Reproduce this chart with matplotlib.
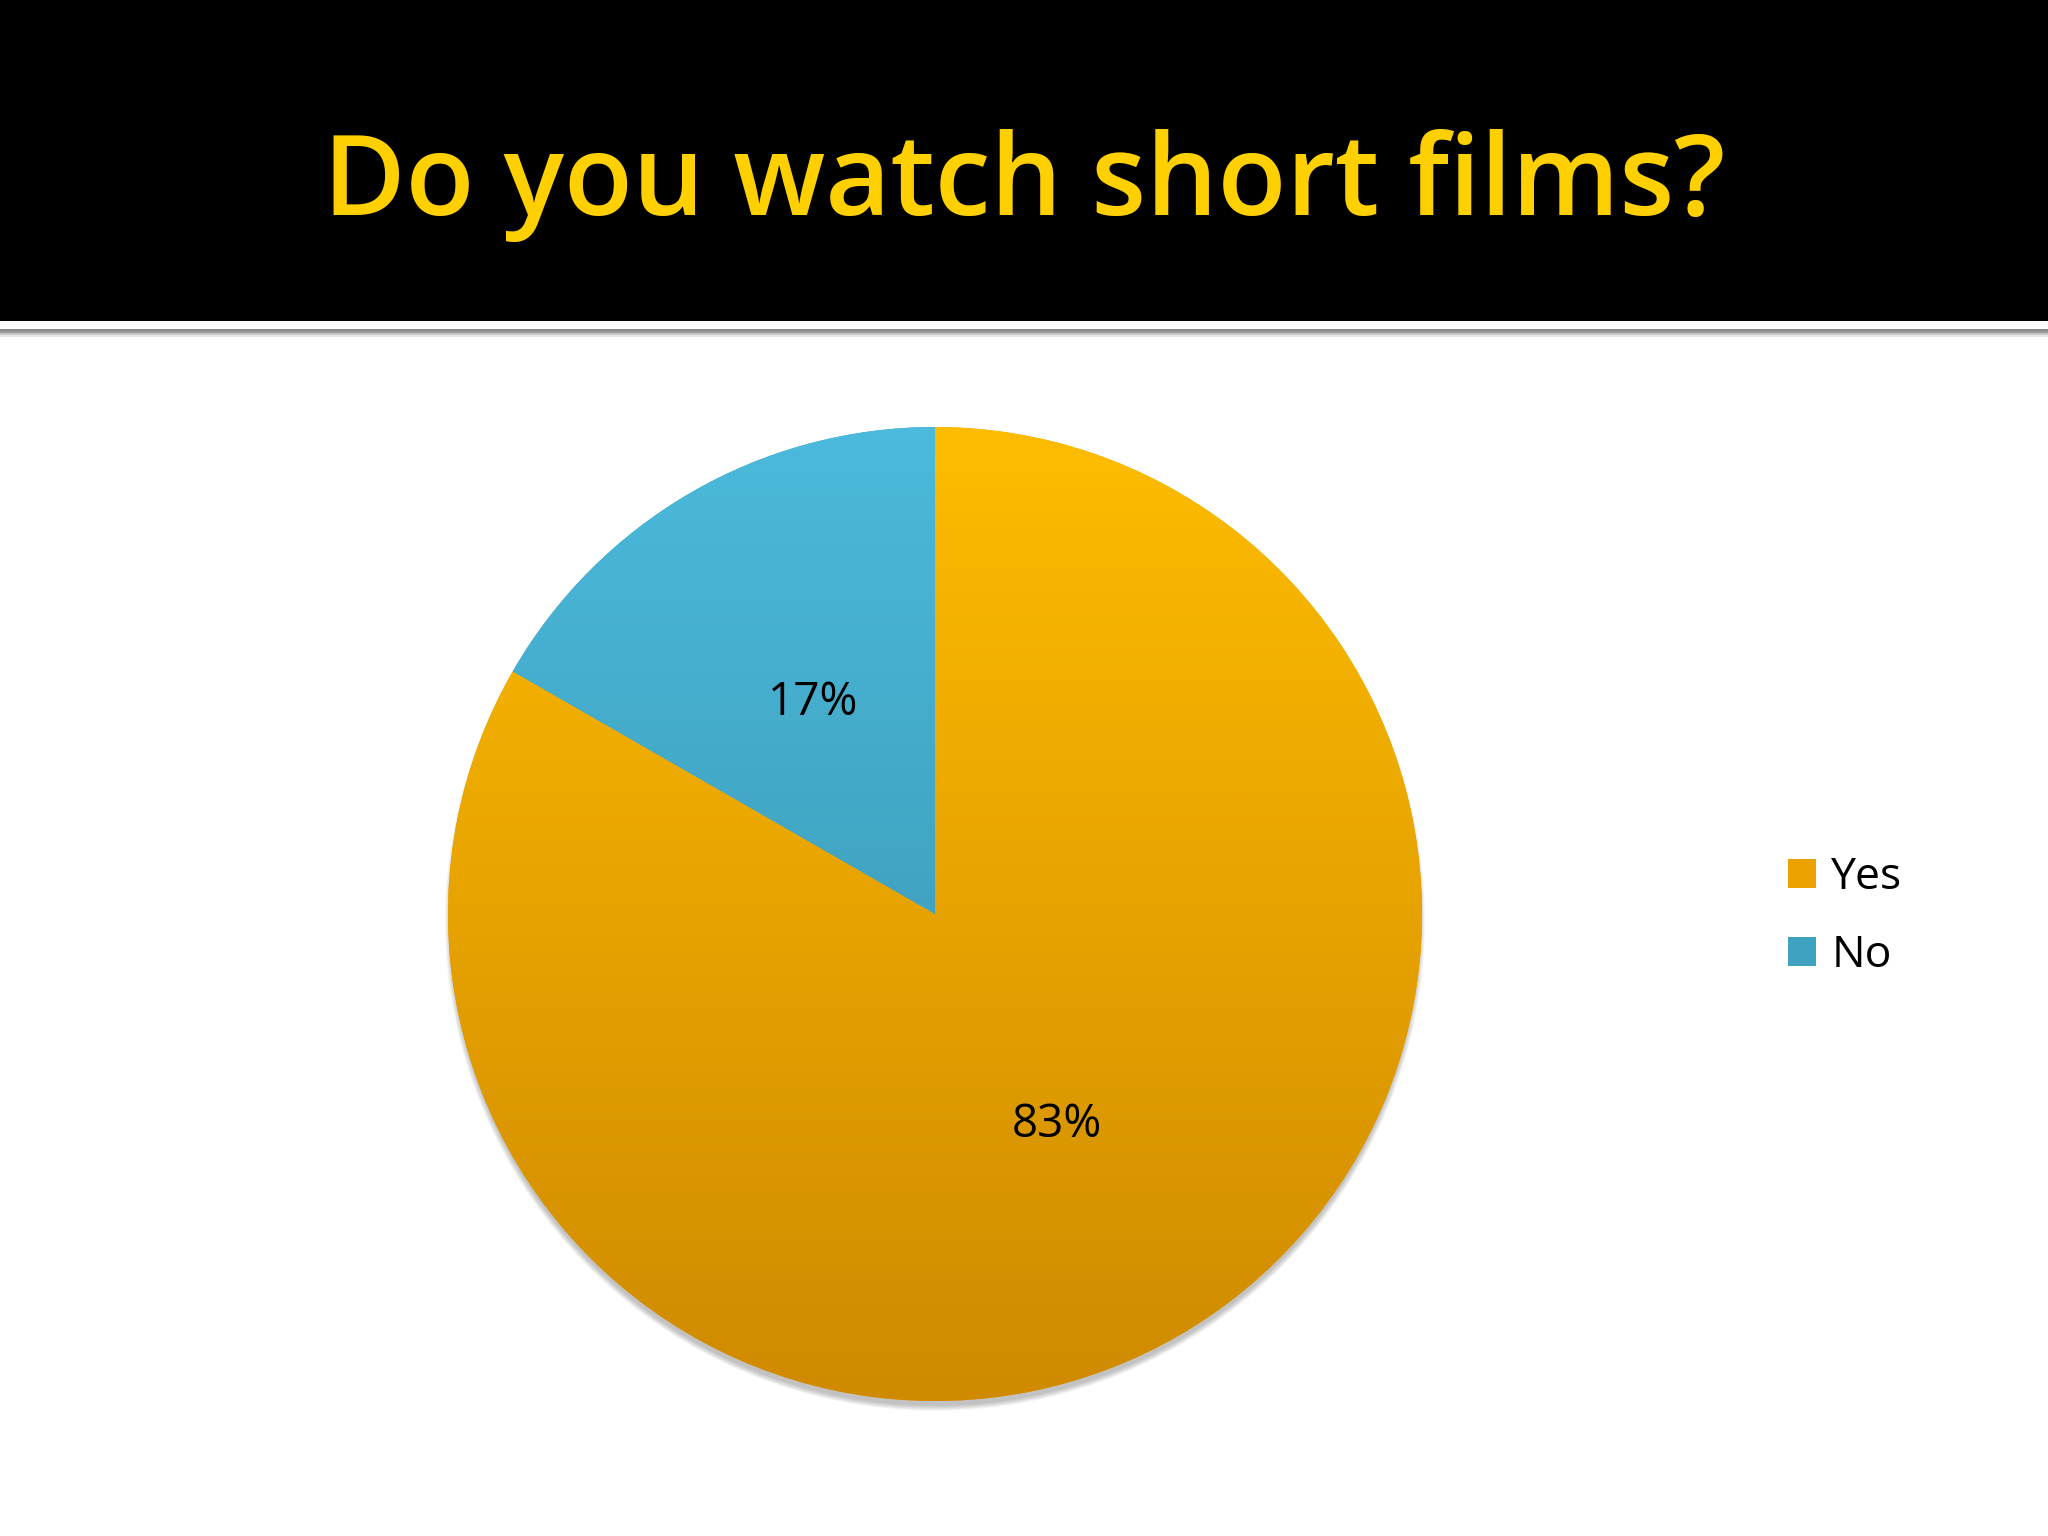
import matplotlib
matplotlib.use("Agg")
import matplotlib.pyplot as plt
import matplotlib.colors as mcolors
from matplotlib.patches import Rectangle, Circle
import numpy as np

# data
labels = ["Yes", "No"]
values = [83.3, 16.7]
pct_labels = ["83%", "17%"]
title = "Do you watch short films?"

# gradient colours (top, bottom) for each slice
top_colors = ["#FEBC00", "#4BBADC"]
bottom_colors = ["#CF8A00", "#378CA6"]
mid_colors = ["#EBA200", "#3FA2C0"]

W, H = 2048, 1536
fig = plt.figure(figsize=(W / 100, H / 100), dpi=100)
fig.patch.set_facecolor("white")

# header band
fig.patches.append(Rectangle((0, 1 - 321 / H), 1, 321 / H, transform=fig.transFigure,
                             facecolor="black", edgecolor="none", zorder=0))
for y, c in [(331, "#8a8a8a"), (333, "#9a9a9a"), (335, "#c8c8c8"), (337, "#e8e8e8")]:
    fig.patches.append(Rectangle((0, 1 - y / H), 1, 2 / H, transform=fig.transFigure,
                                 facecolor=c, edgecolor="none", zorder=0))

# title with soft glow
for a in [0.10, 0.15]:
    fig.text(0.5, 1 - 215 / H, title, ha="center", va="baseline", fontsize=81,
             family="Open Sans", weight="semibold", color="#FFB000", alpha=a)
fig.text(0.5, 1 - 215 / H, title, ha="center", va="baseline", fontsize=81,
         family="Open Sans", weight="semibold", color="#FFD000")

# pie axes: center (935, 914) px, radius 487 px
cx, cy, R = 935, 914, 487
half = 520
ax = fig.add_axes([(cx - half) / W, (H - cy - half) / H, 2 * half / W, 2 * half / H])
lim = half / R
ax.axis("off")

# soft shadow, mostly below the pie
for k in range(6):
    ax.add_patch(Circle((0, -0.014), 0.996 + k * 0.002, facecolor="#404040",
                        edgecolor="none", alpha=0.06, zorder=0))

wedges, _, autotexts = ax.pie(values, colors=mid_colors, startangle=90, counterclock=False,
                              autopct="%1.0f%%", pctdistance=0.5, radius=1.0,
                              wedgeprops=dict(linewidth=0, edgecolor="none"),
                              textprops=dict(fontsize=33, family="Open Sans", color="black"))
ax.set_xlim(-lim, lim)
ax.set_ylim(-lim, lim)
ax.set_aspect("equal")

for t, s in zip(autotexts, pct_labels):
    t.set_text(s)
    t.set_zorder(5)

# vertical gradient fill clipped to each wedge
grad = np.linspace(0, 1, 256).reshape(-1, 1)
for w, ct, cb in zip(wedges, top_colors, bottom_colors):
    cmap = mcolors.LinearSegmentedColormap.from_list("g", [ct, cb])
    im = ax.imshow(grad, cmap=cmap, extent=[-1, 1, -1, 1], origin="upper",
                   aspect="auto", zorder=2, interpolation="bilinear")
    im.set_clip_path(w)
ax.set_xlim(-lim, lim)
ax.set_ylim(-lim, lim)

# legend
leg = fig.legend(wedges, labels, loc="center left",
                 bbox_to_anchor=(1766 / W, 1 - 917 / H), frameon=False,
                 prop=dict(family="Open Sans", size=32), handlelength=0.62,
                 handleheight=0.62, handletextpad=0.35, labelspacing=0.75,
                 borderpad=0)

fig.savefig("out.png", dpi=100, facecolor=fig.get_facecolor())
